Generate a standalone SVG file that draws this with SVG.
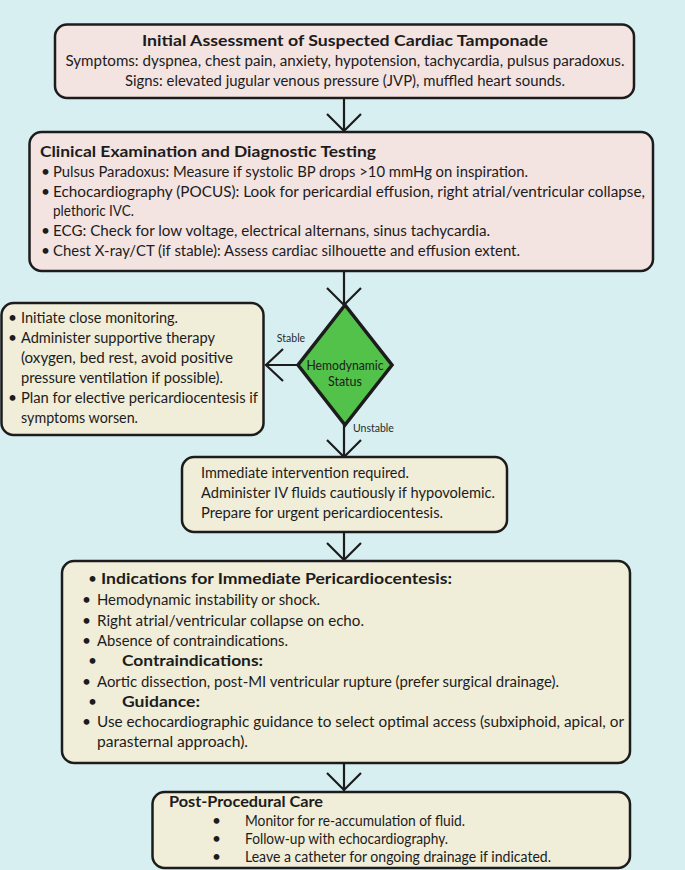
<svg xmlns="http://www.w3.org/2000/svg" width="685" height="870" viewBox="0 0 685 870">
<defs>
<style>
.bg{fill:#d7eff0}
.pink{fill:#f3e3e1;stroke:#1c1c1c;stroke-width:2.5}
.cream{fill:#f0edd8;stroke:#1c1c1c;stroke-width:2.5}
.dia{fill:#52c24a;stroke:#1c1c1c;stroke-width:3.5;stroke-linejoin:miter}
.ln{fill:none;stroke:#1c1c1c;stroke-width:2.2}
text{font-family:"Lato","Liberation Sans",sans-serif;fill:#1c1c1c}
.t{font-size:15.5px}
.b{font-size:15.5px;font-weight:bold}
.s{font-size:10.5px;fill:#2a2a2a}
.d{font-size:12.5px}
</style>
</defs>
<rect class="bg" x="0" y="0" width="685" height="870"/>

<g id="connectors">
<path class="ln" d="M344,98V131M327,114L344,131L361,114"/>
<path class="ln" d="M344,271V304M327,288L344,305L361,288"/>
<path class="ln" d="M298,365H265M283,349L266,365L283,381"/>
<path class="ln" d="M344,425V456M327,440L344,457L361,440"/>
<path class="ln" d="M344,532V560M327,543L344,560L361,543"/>
<path class="ln" d="M344,763V791M327,773L344,790L361,773"/>
<text class="s" x="291" y="342" text-anchor="middle">Stable</text>
<text class="s" x="353" y="432">Unstable</text>
</g>

<g id="initial-assessment">
<rect class="pink" x="55" y="24.5" width="579" height="73.5" rx="12"/>
<text class="b" x="345" y="46" text-anchor="middle" textLength="406" lengthAdjust="spacingAndGlyphs">Initial Assessment of Suspected Cardiac Tamponade</text>
<text class="t" x="345" y="66" text-anchor="middle" textLength="559" lengthAdjust="spacingAndGlyphs">Symptoms: dyspnea, chest pain, anxiety, hypotension, tachycardia, pulsus paradoxus.</text>
<text class="t" x="345" y="86" text-anchor="middle" textLength="440" lengthAdjust="spacingAndGlyphs">Signs: elevated jugular venous pressure (JVP), muffled heart sounds.</text>
</g>

<g id="clinical-examination">
<rect class="pink" x="29.5" y="132" width="623.5" height="139" rx="12"/>
<text class="b" x="40" y="157" textLength="336" lengthAdjust="spacingAndGlyphs">Clinical Examination and Diagnostic Testing</text>
<text class="t" x="41" y="177">•</text>
<text class="t" x="53" y="177" textLength="475" lengthAdjust="spacingAndGlyphs">Pulsus Paradoxus: Measure if systolic BP drops &gt;10 mmHg on inspiration.</text>
<text class="t" x="41" y="197">•</text>
<text class="t" x="53" y="197" textLength="592" lengthAdjust="spacingAndGlyphs">Echocardiography (POCUS): Look for pericardial effusion, right atrial/ventricular collapse,</text>
<text class="t" x="53" y="216" textLength="81" lengthAdjust="spacingAndGlyphs">plethoric IVC.</text>
<text class="t" x="41" y="236">•</text>
<text class="t" x="53" y="236" textLength="437" lengthAdjust="spacingAndGlyphs">ECG: Check for low voltage, electrical alternans, sinus tachycardia.</text>
<text class="t" x="41" y="256">•</text>
<text class="t" x="53" y="256" textLength="467" lengthAdjust="spacingAndGlyphs">Chest X-ray/CT (if stable): Assess cardiac silhouette and effusion extent.</text>
</g>

<g id="hemodynamic-status">
<polygon class="dia" points="345,305 392,365 345,425 298,365"/>
<text class="d" x="345" y="370" text-anchor="middle" textLength="77" lengthAdjust="spacingAndGlyphs">Hemodynamic</text>
<text class="d" x="345" y="386" text-anchor="middle">Status</text>
</g>

<g id="stable-care">
<rect class="cream" x="1.5" y="303" width="262" height="132" rx="12"/>
<text class="t" x="8" y="323">•</text>
<text class="t" x="21" y="323" textLength="157" lengthAdjust="spacingAndGlyphs">Initiate close monitoring.</text>
<text class="t" x="8" y="343">•</text>
<text class="t" x="21" y="343" textLength="194" lengthAdjust="spacingAndGlyphs">Administer supportive therapy</text>
<text class="t" x="21" y="363" textLength="212" lengthAdjust="spacingAndGlyphs">(oxygen, bed rest, avoid positive</text>
<text class="t" x="21" y="383" textLength="202" lengthAdjust="spacingAndGlyphs">pressure ventilation if possible).</text>
<text class="t" x="8" y="403">•</text>
<text class="t" x="21" y="403" textLength="237" lengthAdjust="spacingAndGlyphs">Plan for elective pericardiocentesis if</text>
<text class="t" x="21" y="423" textLength="117" lengthAdjust="spacingAndGlyphs">symptoms worsen.</text>
</g>

<g id="unstable-care">
<rect class="cream" x="182" y="457" width="325" height="75" rx="12"/>
<text class="t" x="201" y="478" textLength="208" lengthAdjust="spacingAndGlyphs">Immediate intervention required.</text>
<text class="t" x="201" y="498" textLength="294" lengthAdjust="spacingAndGlyphs">Administer IV fluids cautiously if hypovolemic.</text>
<text class="t" x="201" y="518" textLength="242" lengthAdjust="spacingAndGlyphs">Prepare for urgent pericardiocentesis.</text>
</g>

<g id="pericardiocentesis">
<rect class="cream" x="62" y="561" width="568" height="202" rx="12"/>
<text class="t" x="88" y="584">•</text>
<text class="b" x="101" y="584" textLength="351" lengthAdjust="spacingAndGlyphs">Indications for Immediate Pericardiocentesis:</text>
<text class="t" x="82" y="605">•</text>
<text class="t" x="97" y="605" textLength="223" lengthAdjust="spacingAndGlyphs">Hemodynamic instability or shock.</text>
<text class="t" x="82" y="626">•</text>
<text class="t" x="97" y="626" textLength="267" lengthAdjust="spacingAndGlyphs">Right atrial/ventricular collapse on echo.</text>
<text class="t" x="82" y="646">•</text>
<text class="t" x="97" y="646" textLength="191" lengthAdjust="spacingAndGlyphs">Absence of contraindications.</text>
<text class="t" x="88" y="666">•</text>
<text class="b" x="122" y="666" textLength="141" lengthAdjust="spacingAndGlyphs">Contraindications:</text>
<text class="t" x="82" y="687">•</text>
<text class="t" x="97" y="687" textLength="462" lengthAdjust="spacingAndGlyphs">Aortic dissection, post-MI ventricular rupture (prefer surgical drainage).</text>
<text class="t" x="88" y="707">•</text>
<text class="b" x="122" y="707" textLength="78" lengthAdjust="spacingAndGlyphs">Guidance:</text>
<text class="t" x="82" y="727">•</text>
<text class="t" x="97" y="727" textLength="527" lengthAdjust="spacingAndGlyphs">Use echocardiographic guidance to select optimal access (subxiphoid, apical, or</text>
<text class="t" x="97" y="747" textLength="151" lengthAdjust="spacingAndGlyphs">parasternal approach).</text>
</g>

<g id="post-procedural-care">
<rect class="cream" x="152.5" y="792" width="477.5" height="76" rx="12"/>
<text class="b" x="169" y="807" textLength="154" lengthAdjust="spacingAndGlyphs">Post-Procedural Care</text>
<text class="t" x="212" y="826">•</text>
<text class="t" x="245" y="826" textLength="220" lengthAdjust="spacingAndGlyphs">Monitor for re-accumulation of fluid.</text>
<text class="t" x="212" y="844">•</text>
<text class="t" x="245" y="844" textLength="203" lengthAdjust="spacingAndGlyphs">Follow-up with echocardiography.</text>
<text class="t" x="212" y="862">•</text>
<text class="t" x="245" y="862" textLength="306" lengthAdjust="spacingAndGlyphs">Leave a catheter for ongoing drainage if indicated.</text>
</g>
</svg>
